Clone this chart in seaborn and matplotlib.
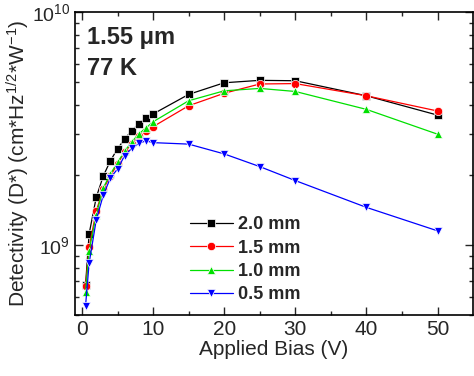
import numpy as np
import pandas as pd
import matplotlib
matplotlib.use("Agg")
import matplotlib.pyplot as plt
import seaborn as sns

# ----------------------------------------------------------
# data
# ----------------------------------------------------------
bias = [0.5, 1, 2, 3, 4, 5, 6, 7, 8, 9, 10, 15, 20, 25, 30, 40, 50]

d_20mm = [6.73e8, 1.115e9, 1.60e9, 1.98e9, 2.30e9, 2.59e9, 2.85e9, 3.10e9, 3.31e9,
          3.52e9, 3.65e9, 4.43e9, 4.97e9, 5.09e9, 5.07e9, 4.37e9, 3.61e9]
d_15mm = [6.67e8, 9.77e8, 1.40e9, 1.74e9, 1.98e9, 2.23e9, 2.51e9, 2.71e9, 2.94e9,
          3.09e9, 3.22e9, 3.96e9, 4.48e9, 4.91e9, 4.93e9, 4.37e9, 3.76e9]
d_10mm = [6.30e8, 9.42e8, 1.35e9, 1.76e9, 2.02e9, 2.26e9, 2.53e9, 2.77e9, 3.00e9,
          3.18e9, 3.38e9, 4.16e9, 4.59e9, 4.70e9, 4.56e9, 3.82e9, 2.99e9]
d_05mm = [5.49e8, 8.35e8, 1.28e9, 1.64e9, 1.94e9, 2.12e9, 2.42e9, 2.60e9, 2.73e9,
          2.80e9, 2.75e9, 2.71e9, 2.46e9, 2.17e9, 1.89e9, 1.45e9, 1.15e9]

labels = ["2.0 mm", "1.5 mm", "1.0 mm", "0.5 mm"]
colors = ["black", "red", "#00e000", "blue"]
markers = ["s", "o", "^", "v"]

# ----------------------------------------------------------
# main
# ----------------------------------------------------------
sns.set_style("ticks")
plt.rcParams["font.family"] = ["Liberation Sans", "DejaVu Sans"]
plt.rcParams["mathtext.fontset"] = "custom"
plt.rcParams["mathtext.rm"] = "Liberation Sans"
plt.rcParams["mathtext.it"] = "Liberation Sans:italic"
plt.rcParams["mathtext.bf"] = "Liberation Sans:bold"

frames = []
for lab, vals in zip(labels, [d_20mm, d_15mm, d_10mm, d_05mm]):
    frames.append(pd.DataFrame({"bias": bias, "D": vals, "size": lab}))
df = pd.concat(frames, ignore_index=True)

fig = plt.figure(figsize=(4.74, 3.76), dpi=100)
ax = fig.add_axes([0.158, 0.162, 0.84, 0.806])

sns.lineplot(data=df, x="bias", y="D", hue="size", style="size",
             hue_order=labels, style_order=labels,
             palette=dict(zip(labels, colors)),
             markers=dict(zip(labels, markers)),
             dashes=False, markersize=6, markeredgewidth=0.5,
             linewidth=0.9, ax=ax)

ax.set_yscale("log")
ax.set_xlim(-1, 55)
ax.set_ylim(5e8, 1e10)
ax.set_xticks([0, 10, 20, 30, 40, 50])
ax.set_xticks([5, 15, 25, 35, 45], minor=True)
ax.tick_params(which="both", direction="in", top=True, right=True, labelsize=15)
ax.tick_params(which="major", length=6, width=1)
ax.tick_params(which="minor", length=3, width=1)
ax.tick_params(axis="y", which="major", labelsize=14)
for s in ax.spines.values():
    s.set_linewidth(1.2)
    s.set_color("black")

ax.set_xlabel("Applied Bias (V)", fontsize=15, labelpad=1)
ax.set_ylabel("Detectivity (D*) (cm*Hz$^{1/2}$*W$^{-1}$)", fontsize=15, labelpad=0)

ax.text(0.03, 0.915, "1.55 \u03bcm", transform=ax.transAxes, fontsize=17,
        fontweight="bold", va="center", ha="left")
ax.text(0.03, 0.815, "77 K", transform=ax.transAxes, fontsize=17,
        fontweight="bold", va="center", ha="left")

ax.legend(loc="upper left", bbox_to_anchor=(0.27, 0.35), frameon=False,
          prop={"weight": "bold", "size": 13}, handlelength=2.4,
          handletextpad=0.3, labelspacing=0.35, borderaxespad=0)

fig.savefig("out.png", dpi=100)
